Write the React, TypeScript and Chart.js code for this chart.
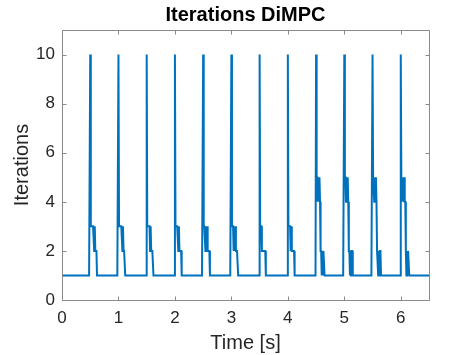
import React, { useEffect, useRef } from "react";
import { Chart, registerables } from "chart.js";

Chart.register(...registerables);

// ---- data ----
const TITLE = "Iterations DiMPC";
const X_LABEL = "Time [s]";
const Y_LABEL = "Iterations";
const xTicks = [0, 1, 2, 3, 4, 5, 6];
const yTicks = [0, 2, 4, 6, 8, 10];
const xRange = [0, 6.5];
const yRange = [0, 11];
const sampleStep = 0.01; // sample time [s]
const baselineIterations = 1;
const spikeTimes = [0.5, 1.0, 1.5, 2.0, 2.5, 3.0, 3.5, 4.0, 4.5, 5.0, 5.5, 6.0];
const spikeProfiles: number[][] = [
  [10, 3, 3, 3, 3, 3, 3, 2, 3, 2, 2, 2],
  [10, 3, 3, 3, 3, 3, 3, 2, 3, 2, 2, 2],
  [10, 3, 3, 3, 3, 3, 2, 3, 2, 2, 2, 2],
  [10, 3, 3, 3, 3, 3, 2, 3, 2, 2, 2, 2],
  [10, 3, 3, 3, 2, 3, 2, 3, 2, 2, 2, 2],
  [10, 3, 3, 3, 2, 3, 2, 3, 2, 2, 2, 2],
  [10, 3, 3, 3, 2, 2, 2, 2, 2, 2, 2],
  [10, 3, 3, 3, 3, 2, 3, 2, 2, 2, 2, 2],
  [10, 5, 5, 4, 5, 4, 5, 4, 2, 2, 1, 2, 1, 2, 2],
  [10, 5, 5, 4, 5, 4, 5, 4, 2, 2, 1, 2, 1, 2, 2],
  [10, 5, 5, 4, 5, 4, 5, 4, 2, 2, 1, 2, 1, 2, 2],
  [10, 5, 5, 4, 5, 4, 5, 4, 4, 2, 1, 2, 1, 2, 2],
];

function buildSeries() {
  const n = Math.round((xRange[1] - xRange[0]) / sampleStep);
  const ys: number[] = new Array(n + 1).fill(baselineIterations);
  spikeTimes.forEach((t, k) => {
    const start = Math.round(t / sampleStep);
    spikeProfiles[k].forEach((v, j) => {
      if (start + j <= n) ys[start + j] = v;
    });
  });
  return ys.map((y, i) => ({ x: +(i * sampleStep).toFixed(2), y }));
}

const FONT = "'Liberation Sans', Arial, Helvetica, sans-serif";
const TEXT = "#262626";
const AXIS = "#8a8a8a";

const matlabAxes = {
  id: "matlabAxes",
  afterDraw(chart: any) {
    const { ctx, chartArea: a, scales } = chart;
    const L = Math.round(a.left) + 0.5;
    const R = Math.round(a.right) + 0.5;
    const T = Math.round(a.top) + 0.5;
    const B = Math.round(a.bottom) + 0.5;
    const tl = 4;
    ctx.save();
    ctx.strokeStyle = AXIS;
    ctx.lineWidth = 1;
    ctx.beginPath();
    ctx.rect(L, T, R - L, B - T);
    for (const v of xTicks) {
      const x = Math.round(scales.x.getPixelForValue(v)) + 0.5;
      ctx.moveTo(x, B);
      ctx.lineTo(x, B - tl);
      ctx.moveTo(x, T);
      ctx.lineTo(x, T + tl);
    }
    for (const v of yTicks) {
      const y = Math.round(scales.y.getPixelForValue(v)) + 0.5;
      ctx.moveTo(L, y);
      ctx.lineTo(L + tl, y);
      ctx.moveTo(R, y);
      ctx.lineTo(R - tl, y);
    }
    ctx.stroke();
    ctx.restore();
  },
};

export default function App() {
  const ref = useRef<HTMLCanvasElement | null>(null);
  useEffect(() => {
    if (!ref.current) return;
    const chart = new Chart(ref.current, {
      type: "line",
      data: {
        datasets: [
          {
            data: buildSeries(),
            borderColor: "#0072BD",
            borderWidth: 2,
            pointRadius: 0,
            tension: 0,
            fill: false,
          },
        ],
      },
      options: {
        responsive: false,
        animation: false,
        layout: { padding: { left: 0, right: 45, top: 0, bottom: 0 } },
        plugins: {
          legend: { display: false },
          tooltip: { enabled: false },
          title: {
            display: true,
            fullSize: false,
            text: TITLE,
            color: "#000",
            font: { family: FONT, size: 20, weight: "bold", lineHeight: 1.2 },
            padding: { top: 3, bottom: 3 },
          },
        },
        scales: {
          x: {
            type: "linear",
            min: xRange[0],
            max: xRange[1],
            grid: { display: false, drawTicks: false },
            border: { display: false },
            afterBuildTicks: (s: any) => {
              s.ticks = xTicks.map((v) => ({ value: v }));
            },
            afterFit: (s: any) => {
              s.height = 55;
            },
            ticks: {
              color: TEXT,
              font: { family: FONT, size: 17, lineHeight: 1.2 },
              padding: 8,
              maxRotation: 0,
              autoSkip: false,
              callback: (v: any) => String(v),
            },
            title: {
              display: true,
              text: X_LABEL,
              color: TEXT,
              font: { family: FONT, size: 20, lineHeight: 1.2 },
              padding: { top: 0, bottom: 0 },
            },
          },
          y: {
            type: "linear",
            min: yRange[0],
            max: yRange[1],
            grid: { display: false, drawTicks: false },
            border: { display: false },
            afterBuildTicks: (s: any) => {
              s.ticks = yTicks.map((v) => ({ value: v }));
            },
            afterFit: (s: any) => {
              s.width = 62;
            },
            ticks: {
              color: TEXT,
              font: { family: FONT, size: 17, lineHeight: 1.2 },
              padding: 7,
              autoSkip: false,
              callback: (v: any) => String(v),
            },
            title: {
              display: true,
              text: Y_LABEL,
              color: TEXT,
              font: { family: FONT, size: 20, lineHeight: 1.2 },
              padding: { top: 10, bottom: 0 },
            },
          },
        },
      },
      plugins: [matlabAxes],
    } as any);
    return () => chart.destroy();
  }, []);
  return (
    <div style={{ position: "fixed", left: 0, top: 0, width: 474, height: 355, background: "#fff" }}>
      <canvas ref={ref} width={474} height={355} style={{ display: "block" }} />
    </div>
  );
}
